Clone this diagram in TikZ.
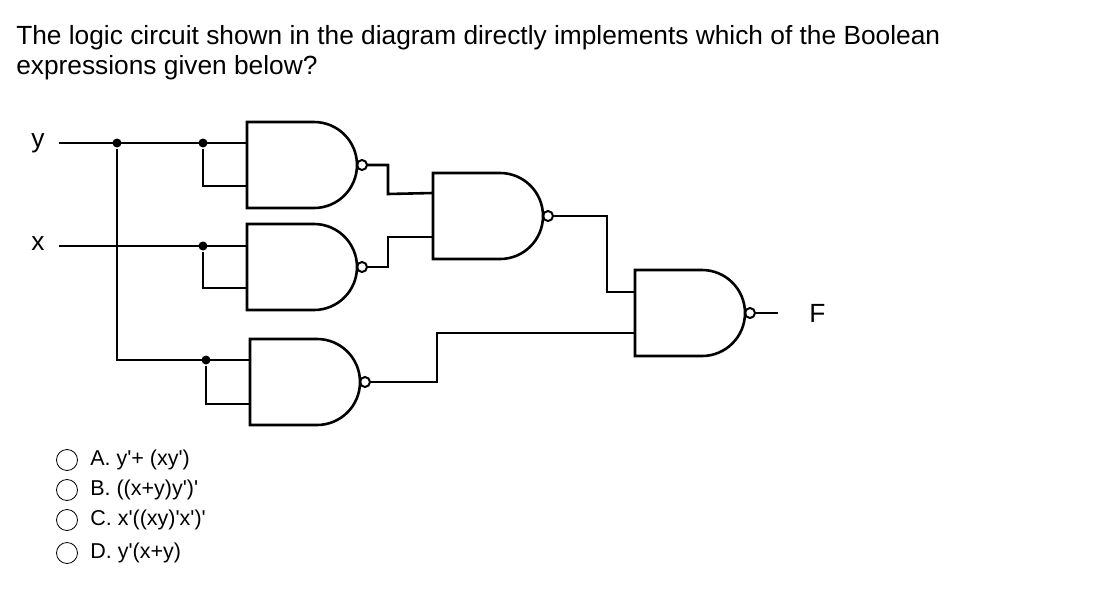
\documentclass[tikz,border=0pt]{standalone}
\usepackage{fontspec}
\defaultfontfeatures{}
\setmainfont{Liberation Sans}
\newcommand\qq{\textquotesingle}
\begin{document}
\begin{tikzpicture}[x=1pt,y=-1pt,line width=2.6pt,
  dot/.style={circle,fill=black,inner sep=0pt,minimum size=9pt},
  txt/.style={anchor=west,inner sep=0pt,font=\fontsize{26.3}{30}\selectfont},
  otxt/.style={anchor=west,inner sep=0pt,font=\fontsize{21.5}{26}\selectfont},
  opt/.style={circle,draw,line width=0.8pt,minimum size=21pt,inner sep=0pt}]
\useasboundingbox (0,0) rectangle (1104,600);
\newcommand\mynand[5]{% name, x, ytop, in1 y offset, in2 y offset
  \draw (#2,#3) -- ++(67,0) arc[start angle=-90,end angle=90,radius=43] -- ++(-67,0) -- cycle;
  \draw[line width=2pt] (#2+115,#3+43) circle[radius=5];
  \coordinate (#1-a) at (#2,#3+#4);
  \coordinate (#1-b) at (#2,#3+#5);
  \coordinate (#1-o) at (#2+120,#3+43);}
\node[txt] (t1) at (15,38) {The logic circuit shown in the diagram directly implements which of the Boolean};
\node[txt] (t2) at (15,68) {expressions given below?};
\mynand{g1}{247}{122}{21}{64}
\mynand{g2}{247}{224}{22}{64}
\mynand{g3}{250}{339}{21}{65}
\mynand{g4}{433}{173}{20}{64}
\mynand{g5}{635}{270}{22}{63}
\node[txt] (ly) at (30,143) {y};
\node[txt] (lx) at (30,244) {x};
\coordinate (ys) at (59,143);
\coordinate (xs) at (59,246);
\node[dot] (d0) at (117,143) {};
\node[dot] (d1) at (203,143) {};
\node[dot] (d2) at (203,246) {};
\node[dot] (d3) at (206,360) {};
\draw (ys) -- (g1-a);
\draw (d1) |- (g1-b);
\draw (xs) -- (g2-a);
\draw (d2) |- (g2-b);
\draw (d0) |- (g3-a);
\draw (d3) |- (g3-b);
\draw (g1-o) -| (388,194) -- (g4-a);
\draw (g2-o) -| (388,237) -- (g4-b);
\draw (g4-o) -| (607,292) -- (g5-a);
\draw (g3-o) -| (437,333) -- (g5-b);
\coordinate (fo) at (778,313);
\draw (g5-o) -- (fo);
\node[txt] (lF) at (808,313) {F};
\foreach \i/\yy/\t in {a/460/{A. y\qq+ (xy\qq)},b/490/{B. ((x+y)y\qq)\qq},c/520/{C. x\qq((xy)\qq x\qq)\qq},d/553/{D. y\qq(x+y)}}{
  \node[opt] (c\i) at (67,\yy) {};
  \node[otxt] (o\i) at (89,\yy) {\t};
}
\end{tikzpicture}
\end{document}
